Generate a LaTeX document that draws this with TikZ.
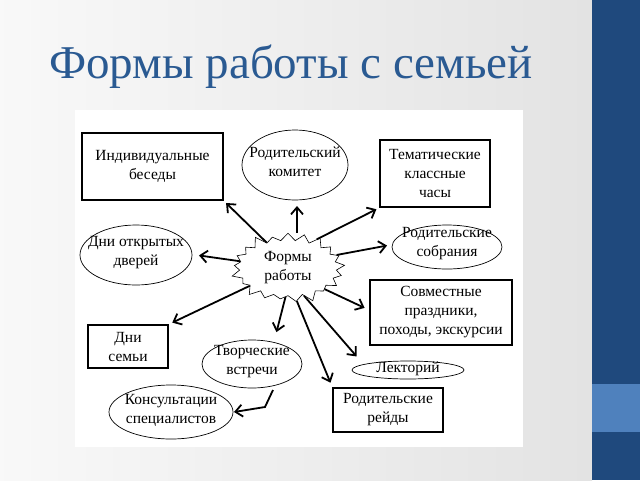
\documentclass[tikz,border=0pt]{standalone}
\usepackage{fontspec}
\setmainfont{Liberation Serif}
\usetikzlibrary{shapes.geometric,shapes.symbols,arrows.meta}
\definecolor{slideblue}{HTML}{1F497D}
\definecolor{lightblue}{HTML}{4F81BD}
\definecolor{titleblue}{HTML}{2A5A92}
\tikzset{
  box/.style={draw, line width=1.8pt, align=center, inner sep=1pt, font=\fontsize{15.5}{19}\selectfont},
  thinbox/.style={draw, line width=1.3pt, align=center, inner sep=1pt, font=\fontsize{15.5}{19}\selectfont},
  oval/.style={align=center, inner sep=0pt, font=\fontsize{15.5}{19}\selectfont},
  arr/.style={line width=1.8pt, -{Straight Barb[length=7pt,width=12pt]}}
}
\begin{document}
\begin{tikzpicture}[x=1pt,y=-1pt]
  \useasboundingbox (0,0) rectangle (640,480);
  \shade[left color=gray!5, right color=gray!22] (0,0) rectangle (592,480);
  \fill[slideblue] (592,0) rectangle (640,480);
  \fill[lightblue] (592,384) rectangle (640,432);
  \node[anchor=base west, text=titleblue, font=\fontsize{47}{50}\selectfont, inner sep=0pt] (title) at (49,78) {Формы работы с семьей};
  \fill[white] (75,110) rectangle (523,447);
  % centre
  \node[draw, starburst, starburst points=21, starburst point height=10pt, minimum width=117pt, minimum height=72pt, align=center, font=\fontsize{15.5}{19}\selectfont, line width=0.6pt] (star) at (288,268) {Формы\\работы};
  % boxes
  \node[box, minimum width=141pt, minimum height=67pt] (ind) at (152.5,166.5) {Индивидуальные\\беседы};
  \node[box, minimum width=110pt, minimum height=67pt] (tem) at (435,173.5) {Тематические\\классные\\часы};
  \node[box, minimum width=142pt, minimum height=65pt] (sov) at (441,312.5) {Совместные\\праздники,\\походы, экскурсии};
  \node[thinbox, minimum width=80pt, minimum height=43pt] (dse) at (128,346.5) {Дни\\семьи};
  \node[thinbox, minimum width=110pt, minimum height=44pt] (rei) at (388,410) {Родительские\\рейды};
  % ovals
  \node[oval] (kom) at (295,162) {Родительский\\комитет};
  \node[oval] (sob) at (447,244) {Родительские\\собрания};
  \node[oval] (dod) at (136,253) {Дни открытых\\дверей};
  \node[oval] (tvo) at (252,362) {Творческие\\встречи};
  \node[oval] (lek) at (408,369) {Лекторий};
  \node[oval] (kon) at (171,410) {Консультации\\специалистов};
  \foreach \n/\rx/\ry/\dy in {kom/53/35/3, sob/55/22/3, dod/56/30/2, tvo/50/24/2, lek/56/9/1, kon/62/27/2}
    \draw[line width=0.7pt] (\n) ++(0,\dy) ellipse ({\rx} and {\ry});
  % arrows
  \draw[arr, shorten >=3pt] (star.130) -- (ind.south east);
  \draw[arr, shorten >=3pt] (star.north) ++(9pt,0) -- (297,203);
  \draw[arr, shorten >=3pt] (star.45) -- (tem.south west);
  \draw[arr, shorten >=3pt] (star.15) -- (390,245);
  \draw[arr, shorten >=3pt] (star.172) -- (196,255);
  \draw[arr, shorten >=4pt] (star.205) -- (dse.north east);
  \draw[arr, shorten >=2pt] (star.265) -- (276,334);
  \draw[arr, shorten >=5pt] (star.330) -- (sov.west |- 310,310);
  \draw[arr, shorten >=2pt] (star.300) -- (358,358);
  \draw[arr, shorten >=5pt] (star.285) -- (rei.north west);
  \draw[arr] (273,390) -- ++(-8,17) -- (234,412);
\end{tikzpicture}
\end{document}
